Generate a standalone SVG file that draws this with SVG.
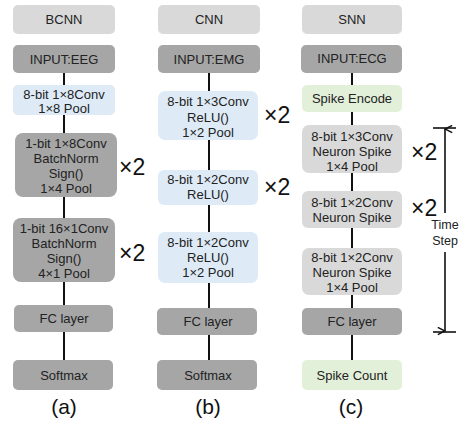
<svg xmlns="http://www.w3.org/2000/svg" width="474" height="426" viewBox="0 0 474 426">
<defs>
<style>
.lg{fill:#d9d9d9}
.dg{fill:#a6a6a6}
.bl{fill:#deebf7}
.gr{fill:#e2f0d9}
text{font-family:"Liberation Sans",Arial,sans-serif;font-size:13px;fill:#222;text-anchor:middle}
.x2{font-size:23px;fill:#111;text-anchor:start}
.lab{font-size:21px;fill:#111}
.ts{font-size:12.5px}
.c line{stroke:#111;stroke-width:2}
</style>
<marker id="ah" viewBox="0 0 10 10" refX="5" refY="1" markerWidth="9" markerHeight="9" orient="auto-start-reverse" markerUnits="userSpaceOnUse">
<path d="M1,9 L5,1 L9,9" fill="none" stroke="#111" stroke-width="1.6"/>
</marker>
</defs>
<rect width="474" height="426" fill="#fff"/>
<g class="c" id="connectors">
<line x1="64" y1="73" x2="64" y2="85"/>
<line x1="64" y1="115" x2="64" y2="133"/>
<line x1="64" y1="197" x2="64" y2="218"/>
<line x1="64" y1="282" x2="64" y2="305"/>
<line x1="64" y1="332" x2="64" y2="360"/>
<line x1="209" y1="73" x2="209" y2="91"/>
<line x1="209" y1="140" x2="209" y2="170"/>
<line x1="209" y1="205" x2="209" y2="232"/>
<line x1="209" y1="283" x2="209" y2="308"/>
<line x1="209" y1="335" x2="209" y2="360"/>
<line x1="352" y1="73" x2="352" y2="85"/>
<line x1="352" y1="112" x2="352" y2="125"/>
<line x1="352" y1="173" x2="352" y2="191"/>
<line x1="352" y1="228" x2="352" y2="248"/>
<line x1="352" y1="295" x2="352" y2="308"/>
<line x1="352" y1="335" x2="352" y2="360"/>
</g>
<g id="bcnn-title"><rect class="lg" x="13" y="5" width="102" height="29" rx="5"/><text x="64" y="24">BCNN</text></g>
<g id="input-eeg"><rect class="dg" x="13" y="45" width="102" height="28" rx="5"/><text x="64" y="64">INPUT:EEG</text></g>
<g id="a-conv1"><rect class="bl" x="13" y="85" width="102" height="30" rx="5"/><text x="64" y="99">8-bit 1×8Conv</text><text x="64" y="113">1×8 Pool</text></g>
<g id="a-conv2"><rect class="dg" x="15" y="133" width="102" height="64" rx="8"/><text x="66" y="148">1-bit 1×8Conv</text><text x="66" y="163">BatchNorm</text><text x="66" y="178">Sign()</text><text x="66" y="193">1×4 Pool</text></g>
<g id="a-x2a"><text class="x2" x="119" y="175">×2</text></g>
<g id="a-conv3"><rect class="dg" x="13" y="218" width="102" height="64" rx="8"/><text x="64" y="233">1-bit 16×1Conv</text><text x="64" y="248">BatchNorm</text><text x="64" y="263">Sign()</text><text x="64" y="278">4×1 Pool</text></g>
<g id="a-x2b"><text class="x2" x="119" y="261">×2</text></g>
<g id="a-fc"><rect class="dg" x="14" y="305" width="99" height="27" rx="5"/><text x="64" y="323">FC layer</text></g>
<g id="a-softmax"><rect class="dg" x="13" y="360" width="100" height="30" rx="5"/><text x="64" y="380">Softmax</text></g>
<g id="a-label"><text class="lab" x="64" y="414">(a)</text></g>

<g id="cnn-title"><rect class="lg" x="158" y="5" width="102" height="29" rx="5"/><text x="209" y="24">CNN</text></g>
<g id="input-emg"><rect class="dg" x="158" y="45" width="102" height="28" rx="5"/><text x="209" y="64">INPUT:EMG</text></g>
<g id="b-conv1"><rect class="bl" x="158" y="91" width="100" height="49" rx="7"/><text x="208" y="106">8-bit 1×3Conv</text><text x="208" y="122">ReLU()</text><text x="208" y="137">1×2 Pool</text></g>
<g id="b-x2a"><text class="x2" x="264" y="123">×2</text></g>
<g id="b-conv2"><rect class="bl" x="158" y="170" width="100" height="35" rx="6"/><text x="208" y="184">8-bit 1×2Conv</text><text x="208" y="199">ReLU()</text></g>
<g id="b-x2b"><text class="x2" x="264" y="195">×2</text></g>
<g id="b-conv3"><rect class="bl" x="158" y="232" width="100" height="51" rx="7"/><text x="208" y="247">8-bit 1×2Conv</text><text x="208" y="262">ReLU()</text><text x="208" y="277">1×2 Pool</text></g>
<g id="b-fc"><rect class="dg" x="157" y="308" width="100" height="27" rx="5"/><text x="208" y="326">FC layer</text></g>
<g id="b-softmax"><rect class="dg" x="157" y="360" width="100" height="30" rx="5"/><text x="208" y="380">Softmax</text></g>
<g id="b-label"><text class="lab" x="208" y="414">(b)</text></g>

<g id="snn-title"><rect class="lg" x="302" y="5" width="100" height="29" rx="5"/><text x="352" y="24">SNN</text></g>
<g id="input-ecg"><rect class="dg" x="301" y="45" width="101" height="28" rx="5"/><text x="352" y="63">INPUT:ECG</text></g>
<g id="c-encode"><rect class="gr" x="302" y="85" width="100" height="27" rx="5"/><text x="352" y="103">Spike Encode</text></g>
<g id="c-conv1"><rect class="lg" x="302" y="125" width="100" height="48" rx="7"/><text x="352" y="141">8-bit 1×3Conv</text><text x="352" y="156">Neuron Spike</text><text x="352" y="171">1×4 Pool</text></g>
<g id="c-x2a"><text class="x2" x="411" y="160">×2</text></g>
<g id="c-conv2"><rect class="lg" x="302" y="191" width="100" height="37" rx="6"/><text x="352" y="207">8-bit 1×2Conv</text><text x="352" y="222">Neuron Spike</text></g>
<g id="c-x2b"><text class="x2" x="411" y="216">×2</text></g>
<g id="c-conv3"><rect class="lg" x="302" y="248" width="100" height="47" rx="7"/><text x="352" y="262">8-bit 1×2Conv</text><text x="352" y="277">Neuron Spike</text><text x="352" y="292">1×4 Pool</text></g>
<g id="c-fc"><rect class="dg" x="302" y="308" width="100" height="27" rx="5"/><text x="352" y="326">FC layer</text></g>
<g id="c-count"><rect class="gr" x="302" y="360" width="100" height="30" rx="5"/><text x="352" y="380">Spike Count</text></g>
<g id="c-label"><text class="lab" x="351" y="414">(c)</text></g>

<g id="time-step">
<line x1="433" y1="128" x2="456" y2="128" stroke="#111" stroke-width="1.6"/>
<line x1="433" y1="332" x2="456" y2="332" stroke="#111" stroke-width="1.6"/>
<line x1="445" y1="213" x2="445" y2="129" stroke="#111" stroke-width="1.6" marker-end="url(#ah)"/>
<line x1="445" y1="252" x2="445" y2="331" stroke="#111" stroke-width="1.6" marker-end="url(#ah)"/>
<text class="ts" x="445" y="229">Time</text>
<text class="ts" x="445" y="245">Step</text>
</g>
</svg>
